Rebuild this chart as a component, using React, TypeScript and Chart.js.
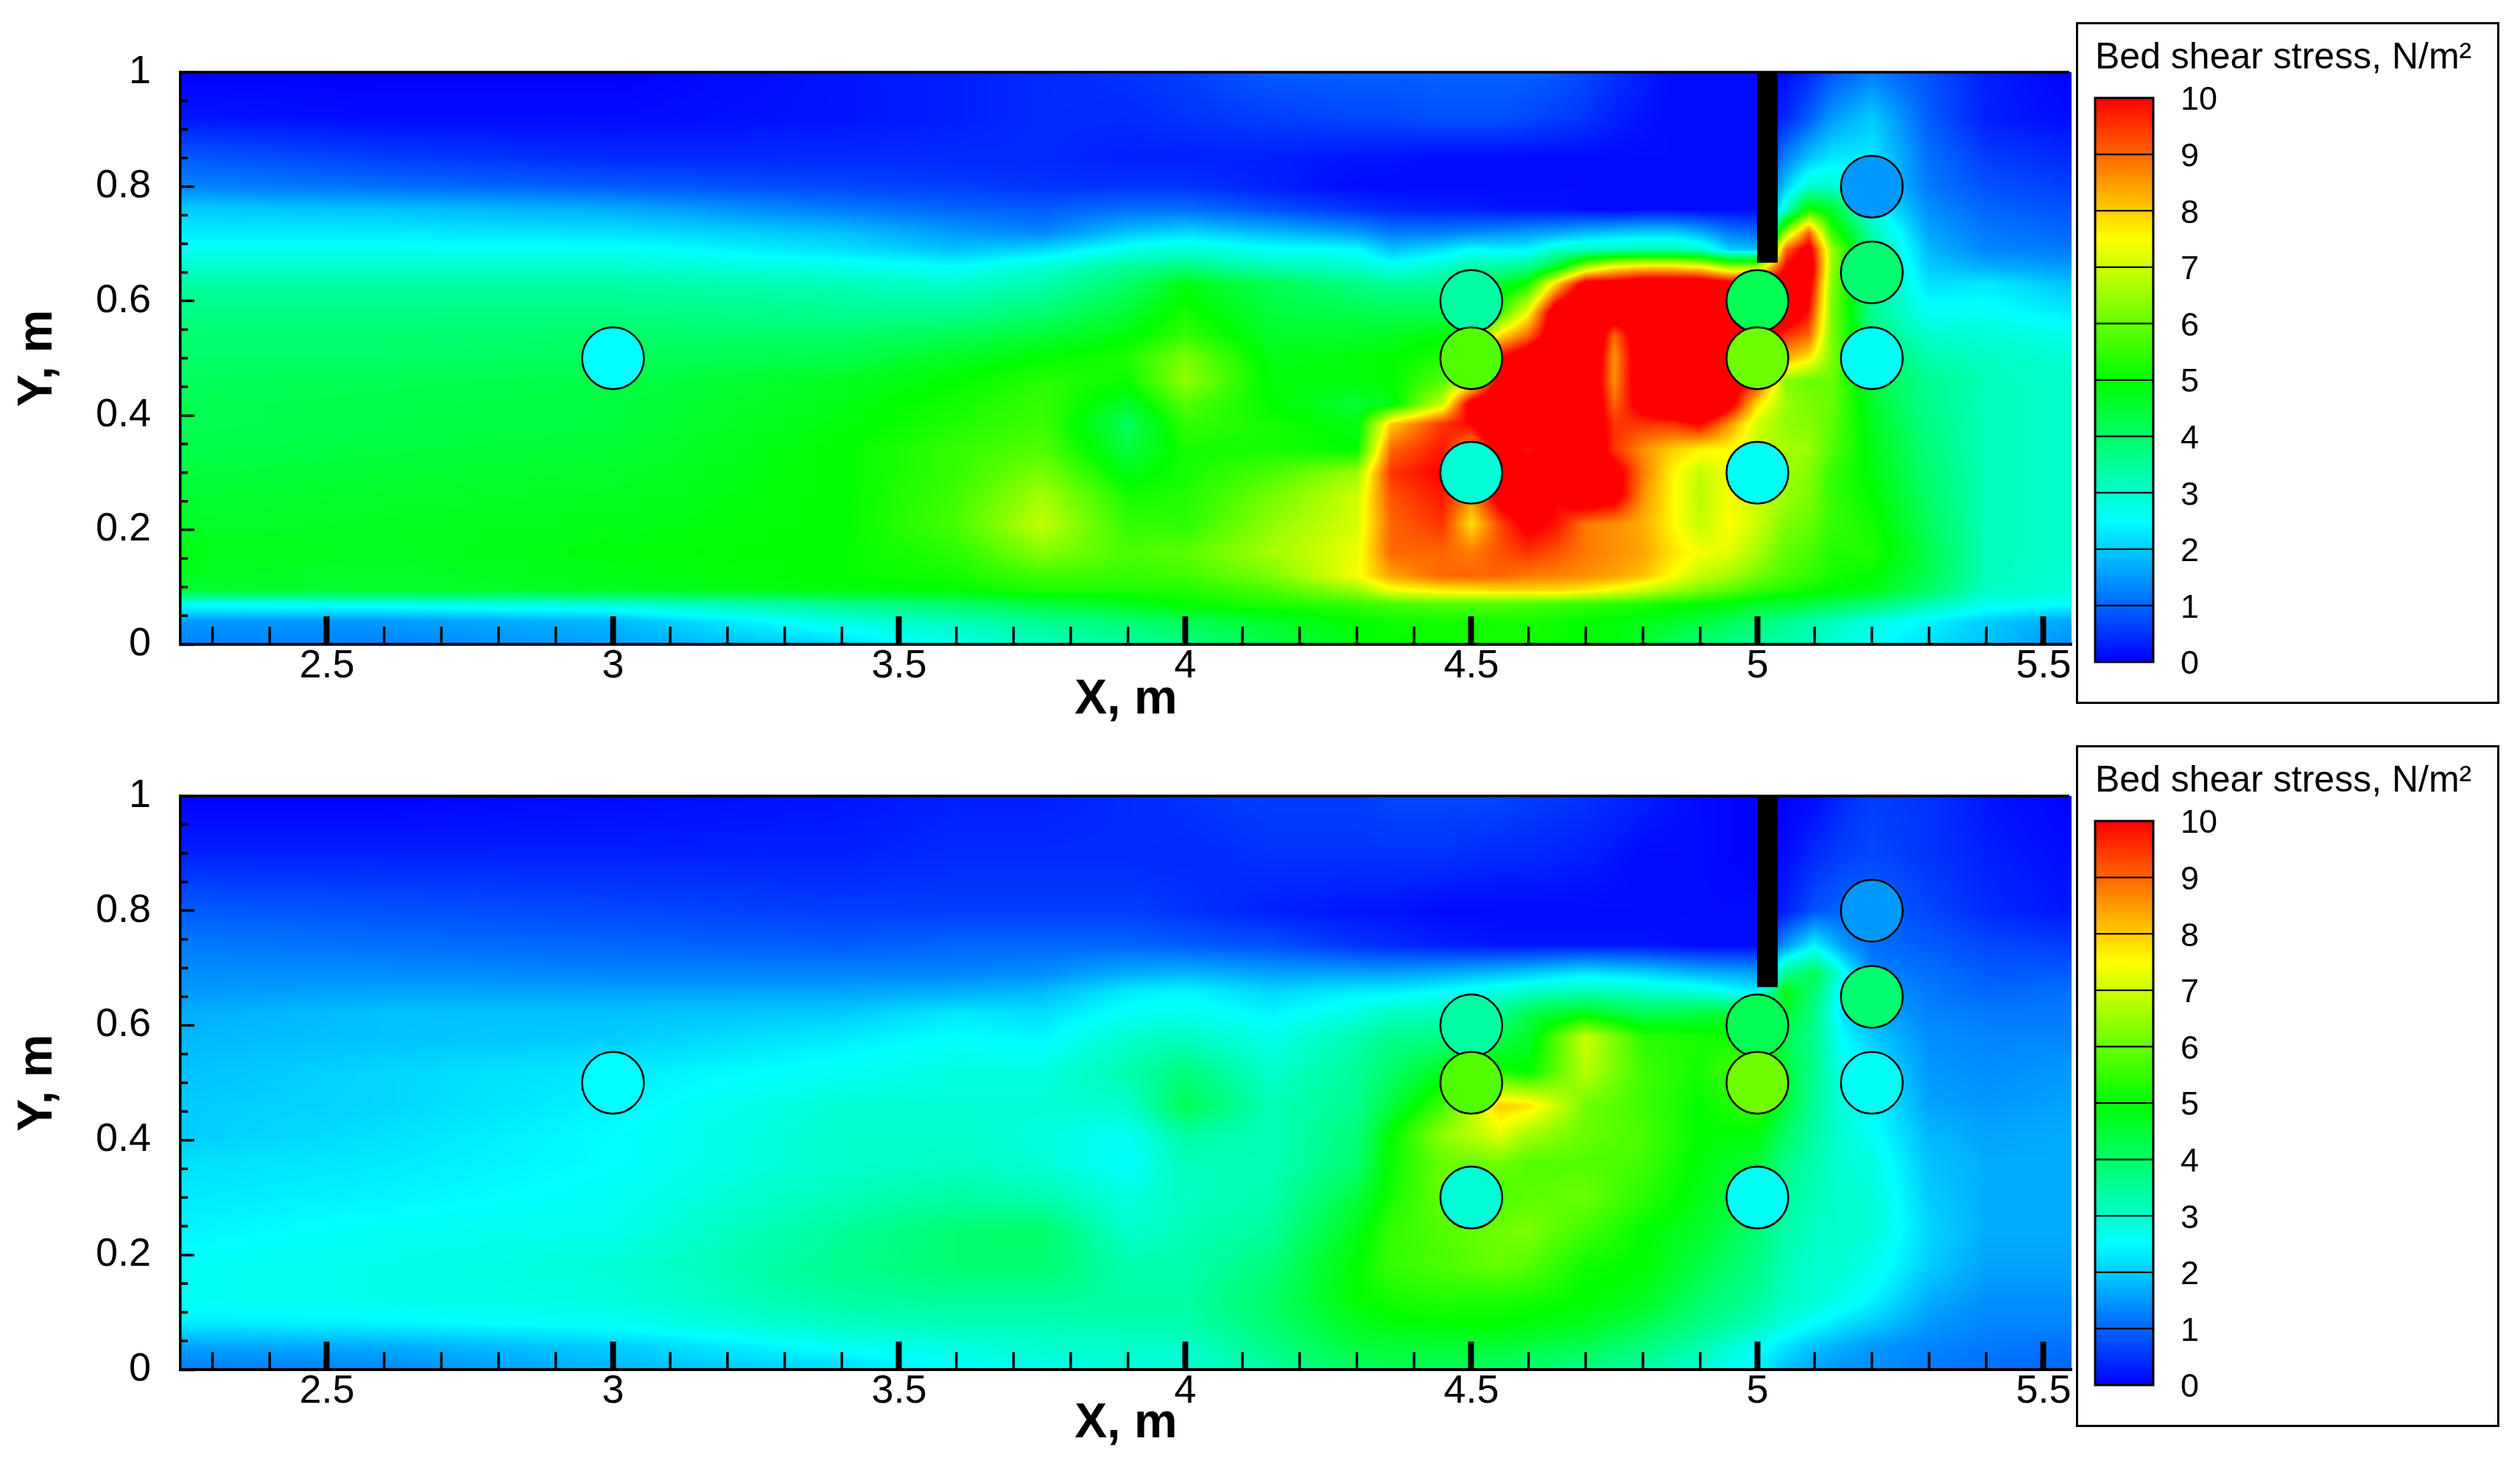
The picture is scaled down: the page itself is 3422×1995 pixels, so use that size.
import React, { useEffect, useRef } from "react";
import { Chart, registerables } from "chart.js";

Chart.register(...registerables);

const FONT = "'Liberation Sans', Arial, sans-serif";

// Axes
const xMin = 2.244;
const xMax = 5.549;
const xMajorTicks = [2.5, 3, 3.5, 4, 4.5, 5, 5.5];
const xMinorTicks = [2.3, 2.4, 2.6, 2.7, 2.8, 2.9, 3.1, 3.2, 3.3, 3.4, 3.6, 3.7, 3.8, 3.9, 4.1, 4.2, 4.3, 4.4, 4.6, 4.7, 4.8, 4.9, 5.1, 5.2, 5.3, 5.4];
const yMajorTicks = [0, 0.2, 0.4, 0.6, 0.8, 1];
const yMinorTicks = [0.05, 0.1, 0.15, 0.25, 0.3, 0.35, 0.45, 0.5, 0.55, 0.65, 0.7, 0.75, 0.85, 0.9, 0.95];
const xTitle = "X, m";
const yTitle = "Y, m";
const legendTitle = "Bed shear stress, N/m²";
const colorLevels = [0, 1, 2, 3, 4, 5, 6, 7, 8, 9, 10];

// Colour map: value -> RGB
const mapValues = [0, 2.5, 5, 7.5, 10];
const mapColors = [[0, 0, 255], [0, 255, 255], [0, 255, 0], [255, 255, 0], [255, 0, 0]];

// Measuring points and wall
const probeX = [3, 4.5, 4.5, 4.5, 5, 5, 5, 5.2, 5.2, 5.2];
const probeY = [0.5, 0.6, 0.5, 0.3, 0.6, 0.5, 0.3, 0.8, 0.65, 0.5];
const probeStress = [2.5, 3.4, 5.8, 2.9, 4.2, 6.1, 2.6, 1.5, 3.9, 2.6];
const wallX = 5.0175;
const wallY = [1, 0.667];

// Upper panel field
const topX = [2.244, 2.6, 3, 3.4, 3.6, 3.75, 3.9, 4, 4.15, 4.3, 4.36, 4.45, 4.5, 4.55, 4.6, 4.65, 4.7, 4.75, 4.8, 4.85, 4.9, 4.95, 5, 5.05, 5.09, 5.13, 5.2, 5.3, 5.4, 5.549];
const topY = [1, 0.92, 0.85, 0.8, 0.76, 0.72, 0.69, 0.66, 0.63, 0.58, 0.54, 0.5, 0.46, 0.42, 0.385, 0.34, 0.3, 0.26, 0.21, 0.16, 0.12, 0.095, 0.07, 0.04, 0];
const topR100 = [0, 0, 0, .2, .3, .4, .5, .6, .9, .95, .95, .95, .95, .95, .95, .85, .7, .5, .3, .1, .1, .1, .1, .1, .4, .8, 1.2, .8, .3, 0];
const topR092 = [.2, .1, .1, .2, .3, .4, .4, .5, .6, .7, .7, .8, .8, .8, .7, .6, .5, .3, .2, .1, .1, .1, .1, .4, .9, 1.5, 2, .9, .3, .1];
const topR085 = [.9, .6, .4, .4, .4, .4, .3, .3, .3, .2, .2, .1, .1, .1, .1, .1, .1, .1, .1, .1, .1, .1, .1, 1.3, 1.9, 2.3, 2.3, 1.1, .6, .4];
const topR080 = [1.3, 1.1, .9, .7, .6, .5, .5, .5, .3, .1, .1, .1, .1, .1, .1, .1, .1, .1, .1, .1, .1, .1, .1, 2, 3, 3, 2.2, 1.2, .8, .6];
const topR076 = [2, 1.9, 1.7, 1.2, 1, .9, 1.1, 1.1, .8, .5, .4, .3, .3, .2, .2, .2, .1, .1, .1, .1, .1, .1, .1, 3, 5.2, 4.6, 2.6, 1.4, 1, .8];
const topR072 = [2.3, 2.3, 2.2, 1.9, 1.5, 1.3, 1.9, 2.1, 1.8, 1.5, 1.2, 1.2, 1.3, 1.4, 1.5, 1.6, 1.8, 1.9, 2, 2, 1.7, 1.2, 1, 6.5, 9, 5.5, 3.3, 1.6, 1.2, 1];
const topR069 = [2.6, 2.6, 2.6, 2.2, 1.9, 2.1, 2.7, 2.9, 2.6, 2.5, 1.9, 2.2, 2.5, 2.4, 2.4, 3, 3.1, 3.2, 3.3, 3.3, 3, 2, 1.9, 9, 10.5, 6.5, 3.5, 1.8, 1.3, 1.2];
const topR066 = [3, 3, 3, 2.7, 2.5, 2.9, 3.5, 3.7, 3.2, 3, 2.7, 3, 3.3, 3.4, 3.6, 4.6, 6.5, 7.5, 7.8, 7.8, 7.5, 6.5, 6.5, 10, 11, 6.5, 3.5, 2, 1.7, 1.5];
const topR063 = [3.4, 3.4, 3.4, 3.2, 3, 3.3, 4, 4.8, 4.2, 3.7, 3.5, 3.6, 3.8, 4.5, 5.2, 8, 10.5, 10.5, 11, 11, 11, 10.5, 10, 11, 10.5, 6.3, 3.5, 2.2, 2.3, 1.9];
const topR058 = [3.7, 3.7, 3.7, 3.6, 3.6, 3.9, 4.5, 5.2, 4.4, 4.3, 4.2, 4.2, 4.4, 5.5, 7.5, 11, 12, 11, 11, 12, 12, 12, 11, 11, 9.8, 6.2, 3.6, 2.6, 2.6, 2.3];
const topR054 = [3.9, 3.9, 4, 4, 4.2, 4.5, 4.9, 5.5, 4.6, 4.6, 4.7, 4.9, 5.2, 7.8, 9, 11, 12, 9, 11, 12, 12, 12, 11, 9.5, 9, 6.2, 3.8, 3, 2.9, 2.7];
const topR050 = [4, 4, 4.1, 4.3, 4.7, 5, 5.3, 6.2, 4.8, 4.9, 5, 5.3, 5.8, 10, 11, 12, 12, 8.5, 11, 12, 12, 12, 10.5, 8.3, 7.7, 6.2, 4.2, 3.3, 3.1, 2.9];
const topR046 = [4.1, 4.2, 4.3, 4.7, 5, 5.4, 5.1, 6.4, 4.9, 4.9, 5, 5.8, 7, 10.5, 11, 12, 11.5, 8.6, 11, 12, 12, 11, 9.5, 6.3, 6, 6, 4.4, 3.6, 3.2, 3];
const topR042 = [4.2, 4.3, 4.4, 4.8, 5.2, 5.5, 4.6, 5.8, 5, 4.5, 4.8, 7, 10.5, 11.5, 12, 12, 11.5, 9, 10.5, 11.5, 12, 10.5, 7.8, 6.5, 6.2, 6, 4.6, 3.6, 3.2, 3];
const topR038 = [4.2, 4.3, 4.4, 4.9, 5.3, 5.6, 4.1, 5.5, 5.2, 4.8, 8, 9.5, 10, 11.5, 12, 12, 11, 9.5, 9.5, 9.5, 10, 8.6, 7, 6.4, 6.3, 5.9, 4.7, 3.7, 3.2, 3];
const topR034 = [4.3, 4.4, 4.5, 5, 5.5, 5.8, 4.4, 5.2, 5.2, 5, 9, 9.8, 8.5, 10.5, 9.8, 10.5, 11.5, 9.5, 8.6, 8, 7.6, 7.5, 7, 6.6, 6.5, 5.8, 4.8, 3.8, 3.2, 3];
const topR030 = [4.4, 4.5, 4.6, 5, 5.5, 6.2, 4.8, 5.2, 5.7, 6.5, 9.5, 10, 9, 10, 10.5, 10.5, 11, 10.5, 8.8, 7.6, 6.9, 7.4, 6.8, 6.5, 6.3, 5.5, 4.9, 3.9, 3.2, 3];
const topR026 = [4.5, 4.6, 4.7, 5, 5.6, 6.6, 5.2, 5.3, 6.1, 7, 9.2, 9.8, 8.6, 10.5, 11, 10, 11, 10.5, 8.6, 7.6, 6.8, 7.4, 7, 6.5, 6.2, 5.5, 5, 4, 3.2, 3];
const topR021 = [4.6, 4.7, 4.8, 5, 5.7, 6.9, 5.5, 5.4, 6.4, 7.1, 9, 9.5, 7.8, 9.3, 10.3, 9.8, 8.8, 8.6, 8.3, 7.6, 6.9, 7.5, 7, 6.2, 6, 5.5, 5.2, 4.1, 3.2, 3];
const topR016 = [4.8, 4.7, 4.9, 5, 5.4, 6.3, 5.7, 5.9, 6.6, 7.3, 9, 9, 8.8, 9.2, 9.5, 9.2, 8.8, 8.6, 8.4, 7.8, 7.4, 7.2, 6.6, 5.9, 5.7, 5.3, 5.3, 4.3, 3.2, 3];
const topR012 = [4.7, 4.6, 4.8, 5, 5.2, 5.6, 5.5, 5.6, 6.2, 7.4, 8.4, 9, 9, 9, 8.8, 8.7, 8.6, 8.4, 8.1, 7.5, 6.9, 6.6, 6.1, 5.7, 5.5, 5.2, 5, 4.2, 3.2, 2.9];
const topR010 = [4.5, 4.6, 4.7, 4.9, 5, 5.3, 5.3, 5.3, 5.7, 6.5, 7.4, 7.7, 7.8, 7.9, 7.9, 7.9, 7.7, 7.4, 7, 6.6, 6.2, 5.9, 5.5, 5.3, 5.1, 5, 4.8, 4, 3.1, 2.9];
const topR007 = [2.6, 2.7, 2.9, 3.6, 4, 4.4, 4.7, 5, 5.3, 5.5, 5.7, 5.8, 5.8, 5.8, 5.7, 5.6, 5.5, 5.4, 5.3, 5.1, 5, 4.9, 4.6, 4.5, 4.4, 4.2, 3.9, 3.3, 2.7, 2.5];
const topR004 = [1.5, 1.5, 1.8, 2.8, 3.2, 3.6, 3.9, 4.2, 4.6, 5, 5.1, 5.2, 5.2, 5.2, 5.2, 5.1, 5, 4.9, 4.8, 4.6, 4.4, 4.2, 3.9, 3.6, 3.4, 3.2, 2.8, 2.4, 2, 1.6];
const topR000 = [1.3, 1.3, 1.6, 2.1, 2.7, 3.1, 3.4, 3.7, 4.3, 4.9, 5, 5.1, 5.2, 5.2, 5.2, 5.1, 5, 4.9, 4.6, 4.2, 3.9, 3.7, 3.5, 3.3, 3.1, 2.9, 2.5, 2.2, 1.9, 1.4];
const topRows = [topR100, topR092, topR085, topR080, topR076, topR072, topR069, topR066, topR063, topR058, topR054, topR050, topR046, topR042, topR038, topR034, topR030, topR026, topR021, topR016, topR012, topR010, topR007, topR004, topR000];

// Lower panel field
const lowX = [2.244, 2.6, 3, 3.4, 3.6, 3.75, 3.9, 4, 4.15, 4.3, 4.36, 4.45, 4.55, 4.6, 4.7, 4.8, 4.9, 5, 5.05, 5.1, 5.15, 5.2, 5.3, 5.4, 5.549];
const lowY = [1, 0.9, 0.8, 0.74, 0.69, 0.66, 0.62, 0.58, 0.52, 0.46, 0.41, 0.36, 0.3, 0.24, 0.18, 0.12, 0.08, 0.04, 0];
const lowR100 = [0, 0, .1, .2, .3, .3, .4, .5, .6, .6, .7, .7, .7, .6, .5, .3, .1, 0, 0, .1, .4, .6, .5, .2, 0];
const lowR090 = [.3, .3, .3, .3, .4, .4, .4, .4, .5, .5, .5, .5, .4, .4, .3, .1, .1, 0, .1, .4, .6, .7, .5, .3, .1];
const lowR080 = [.9, .8, .7, .6, .6, .6, .6, .5, .3, .2, .2, .1, .1, .1, .1, .1, .1, .1, .3, .8, 1, 1, .7, .4, .2];
const lowR074 = [1.2, 1.1, 1, .9, 1, 1, 1, .9, .8, .5, .4, .3, .2, .2, .2, .2, .1, .1, 1.5, 2.4, 1.5, 1.1, .9, .7, .6];
const lowR069 = [1.4, 1.4, 1.3, 1.3, 1.3, 1.4, 1.7, 1.8, 1.6, 1.6, 1.6, 1.7, 1.9, 2, 2.3, 2.1, 1.8, 1.6, 3.6, 4.2, 2.7, 1.3, 1.1, .9, .9];
const lowR066 = [1.5, 1.6, 1.6, 1.6, 1.7, 1.8, 2.3, 2.4, 2.1, 2.3, 2.3, 2.5, 2.8, 3, 3.2, 3, 2.8, 2.3, 4.8, 3.9, 2.4, 1.5, 1.2, 1, 1.1];
const lowR062 = [1.7, 1.9, 1.9, 2, 2.3, 2.2, 2.6, 2.7, 2.4, 2.8, 3.1, 3.2, 3.6, 4.3, 4.8, 4.2, 4.4, 4.6, 4.6, 3.7, 2.2, 1.7, 1.3, 1.2, 1.2];
const lowR058 = [1.8, 1.9, 2, 2.3, 2.5, 2.4, 3, 3.1, 2.7, 3.3, 3.6, 3.7, 4.2, 4.6, 7, 5.4, 5.2, 5.1, 4.2, 3.6, 2.5, 2, 1.4, 1.3, 1.3];
const lowR052 = [1.9, 2.1, 2.3, 2.6, 2.8, 2.8, 3.3, 3.8, 3, 3.5, 4, 4.7, 5.2, 5, 6.8, 5.6, 5.2, 6, 4.4, 3.6, 2.7, 2.3, 1.5, 1.4, 1.5];
const lowR046 = [2, 2.1, 2.4, 2.9, 2.9, 2.9, 3, 4.2, 3.2, 3.6, 4.4, 5.6, 8, 7.8, 6.1, 5.6, 5, 5.6, 4.4, 3.5, 2.8, 2.5, 1.6, 1.5, 1.6];
const lowR041 = [2, 2.2, 2.5, 3, 3, 2.8, 2.6, 3.4, 3.2, 3.8, 5, 6.4, 7.2, 6.6, 6, 5.7, 5, 4.9, 4, 3.4, 2.9, 2.6, 1.8, 1.6, 1.7];
const lowR036 = [2.2, 2.3, 2.5, 3, 3.1, 2.9, 2.5, 3.2, 3.2, 3.9, 5.1, 6, 6.1, 5.8, 5.8, 5.6, 4.9, 4.5, 3.7, 3.3, 2.9, 2.8, 1.9, 1.7, 1.7];
const lowR030 = [2.3, 2.4, 2.6, 3.2, 3.4, 3.3, 2.8, 3.1, 3.3, 4.4, 5.2, 6, 5.7, 5.9, 6, 5.4, 4.8, 4.2, 3.5, 3.2, 3, 2.9, 2, 1.7, 1.7];
const lowR024 = [2.4, 2.6, 2.7, 3.5, 3.9, 4, 3, 3.2, 3.5, 4.8, 5.5, 5.8, 6.1, 6.2, 5.6, 5, 4.6, 3.9, 3.3, 3.1, 3, 2.9, 2.1, 1.7, 1.7];
const lowR018 = [2.6, 2.7, 2.9, 3.6, 3.9, 3.9, 3.3, 3.3, 3.8, 5, 5.5, 5.7, 6, 5.8, 5.1, 5, 4.3, 3.7, 3.2, 3, 2.9, 2.7, 2, 1.6, 1.6];
const lowR012 = [2.6, 2.7, 2.8, 3.4, 3.5, 3.5, 3.4, 3.4, 4, 5, 5.2, 5.3, 5.2, 5.2, 5, 4.7, 4, 3.5, 3.1, 2.9, 2.7, 2.4, 1.7, 1.4, 1.4];
const lowR008 = [2.3, 2.4, 2.6, 3.1, 3.2, 3.2, 3.3, 3.3, 3.9, 4.7, 4.9, 5, 5, 4.9, 4.7, 4.3, 3.7, 3.2, 2.8, 2.5, 2.2, 2, 1.5, 1.3, 1.3];
const lowR004 = [1.6, 1.7, 2, 2.6, 2.8, 3, 3, 3, 3.7, 4.4, 4.5, 4.5, 4.5, 4.4, 4.2, 3.8, 3.3, 2.6, 2.2, 1.9, 1.7, 1.5, 1.3, 1.2, 1.1];
const lowR000 = [1.2, 1.3, 1.8, 2.1, 2.5, 2.7, 2.9, 2.9, 3.4, 4.1, 4.2, 4.1, 4, 3.9, 3.7, 3.4, 2.9, 2.4, 1.9, 1.6, 1.4, 1.4, 1.2, 1.1, 1];
const lowRows = [lowR100, lowR090, lowR080, lowR074, lowR069, lowR066, lowR062, lowR058, lowR052, lowR046, lowR041, lowR036, lowR030, lowR024, lowR018, lowR012, lowR008, lowR004, lowR000];

function colorOf(v: number): number[] {
  const c = Math.max(mapValues[0], Math.min(mapValues[mapValues.length - 1], v));
  let i = 0;
  while (i < mapValues.length - 2 && c > mapValues[i + 1]) i++;
  const t = (c - mapValues[i]) / (mapValues[i + 1] - mapValues[i]);
  return mapColors[i].map((a, k) => Math.round(a + (mapColors[i + 1][k] - a) * t));
}
const cssColor = (v: number) => {
  const [r, g, b] = colorOf(v);
  return `rgb(${r},${g},${b})`;
};

// position of v in a monotonic node list, as [lower index, fraction]
function locate(nodes: number[], v: number): [number, number] {
  const asc = nodes[nodes.length - 1] > nodes[0];
  let i = 0;
  while (i < nodes.length - 2 && (asc ? v > nodes[i + 1] : v < nodes[i + 1])) i++;
  const t = (v - nodes[i]) / (nodes[i + 1] - nodes[i]);
  return [i, Math.max(0, Math.min(1, t))];
}

const zeroPadding = (s: any) => {
  s.paddingLeft = 0;
  s.paddingRight = 0;
  s.paddingTop = 0;
  s.paddingBottom = 0;
};

function fieldPlugin(xs: number[], ys: number[], rows: number[][]) {
  return {
    id: "field",
    beforeDraw(chart: any) {
      const { left, right, top, bottom } = chart.chartArea;
      const L = Math.round(left);
      const T = Math.round(top);
      const W = Math.round(right) - L;
      const H = Math.round(bottom) - T;
      const img = chart.ctx.createImageData(W, H);
      const colLoc: [number, number][] = [];
      for (let i = 0; i < W; i++) colLoc.push(locate(xs, chart.scales.x.getValueForPixel(L + i + 0.5)));
      let p = 0;
      for (let j = 0; j < H; j++) {
        const [r, s] = locate(ys, chart.scales.y.getValueForPixel(T + j + 0.5));
        const a = rows[r];
        const b = rows[r + 1];
        for (let i = 0; i < W; i++) {
          const [c, t] = colLoc[i];
          const v = (a[c] * (1 - t) + a[c + 1] * t) * (1 - s) + (b[c] * (1 - t) + b[c + 1] * t) * s;
          const col = colorOf(v);
          img.data[p++] = col[0];
          img.data[p++] = col[1];
          img.data[p++] = col[2];
          img.data[p++] = 255;
        }
      }
      chart.ctx.putImageData(img, L, T);
    },
    afterDatasetsDraw(chart: any) {
      const { ctx, chartArea, scales } = chart;
      ctx.save();
      ctx.strokeStyle = "#000";
      ctx.lineWidth = 3.5;
      xMinorTicks.forEach((v) => {
        const x = scales.x.getPixelForValue(v);
        ctx.beginPath();
        ctx.moveTo(x, chartArea.bottom);
        ctx.lineTo(x, chartArea.bottom - 24);
        ctx.stroke();
      });
      yMinorTicks.forEach((v) => {
        const y = scales.y.getPixelForValue(v);
        ctx.beginPath();
        ctx.moveTo(chartArea.left, y);
        ctx.lineTo(chartArea.left + 10, y);
        ctx.stroke();
      });
      ctx.beginPath();
      ctx.moveTo(chartArea.left, chartArea.top);
      ctx.lineTo(chartArea.right - 3, chartArea.top);
      ctx.stroke();
      ctx.restore();
    },
  };
}

function Panel(props: { canvasTop: number; plotTop: number; plotBottom: number; xs: number[]; ys: number[]; rows: number[][] }) {
  const ref = useRef<HTMLCanvasElement>(null);
  const width = 2815;
  const height = 985;
  useEffect(() => {
    const chart = new Chart(ref.current as HTMLCanvasElement, {
      type: "scatter",
      data: {
        datasets: [
          {
            label: "Probes",
            data: probeX.map((x, i) => ({ x, y: probeY[i] })),
            backgroundColor: probeStress.map(cssColor),
            borderColor: "#000",
            borderWidth: 2.5,
            pointRadius: 42,
            clip: false,
          },
          {
            label: "Wall",
            data: wallY.map((y) => ({ x: wallX, y })),
            showLine: true,
            borderColor: "#000",
            borderWidth: 28,
            borderCapStyle: "butt",
            pointRadius: 0,
          },
        ],
      },
      options: {
        animation: false,
        responsive: false,
        devicePixelRatio: 1,
        layout: { autoPadding: false, padding: { top: props.plotTop, right: 2, left: 0, bottom: 0 } },
        plugins: { legend: { display: false }, tooltip: { enabled: false } },
        scales: {
          x: {
            type: "linear",
            min: xMin,
            max: xMax,
            afterBuildTicks: (s: any) => { s.ticks = xMajorTicks.map((value) => ({ value })); },
            afterFit: (s: any) => { s.height = height - props.plotBottom; zeroPadding(s); },
            border: { display: true, color: "#000", width: 4 },
            grid: { drawOnChartArea: false, drawTicks: true, tickColor: "#000", tickWidth: 8, tickLength: -38 },
            ticks: {
              color: "#000",
              font: { family: FONT, size: 54 },
              padding: 36,
              autoSkip: false,
              maxRotation: 0,
              minRotation: 0,
              callback: (v: any) => String(v),
            },
            title: {
              display: true,
              text: xTitle,
              color: "#000",
              font: { family: FONT, size: 66, weight: "bold", lineHeight: 1 },
              padding: { top: 0, bottom: 1 },
            },
          },
          y: {
            type: "linear",
            min: 0,
            max: 1,
            afterBuildTicks: (s: any) => { s.ticks = yMajorTicks.map((value) => ({ value })); },
            afterFit: (s: any) => { s.width = 245; zeroPadding(s); },
            border: { display: true, color: "#000", width: 3.5 },
            grid: { drawOnChartArea: false, drawTicks: true, tickColor: "#000", tickWidth: 3.5, tickLength: -19 },
            ticks: {
              color: "#000",
              font: { family: FONT, size: 54 },
              padding: 59,
              autoSkip: false,
              callback: (v: any) => String(v),
            },
            title: {
              display: true,
              text: yTitle,
              color: "#000",
              font: { family: FONT, size: 66, weight: "bold", lineHeight: 1 },
              padding: { top: 19, bottom: 0 },
            },
          },
        },
      },
      plugins: [fieldPlugin(props.xs, props.ys, props.rows)],
    } as any);
    return () => chart.destroy();
  }, []);
  return (
    <canvas
      ref={ref}
      width={width}
      height={height}
      style={{ position: "absolute", left: 0, top: props.canvasTop, width, height }}
    />
  );
}

const legendFrame = {
  id: "legendFrame",
  afterDatasetsDraw(chart: any) {
    const { ctx, chartArea } = chart;
    ctx.save();
    ctx.strokeStyle = "#000";
    ctx.lineWidth = 3;
    ctx.strokeRect(chartArea.left, chartArea.top, chartArea.right - chartArea.left, chartArea.bottom - chartArea.top);
    ctx.restore();
  },
};

function Legend(props: { top: number }) {
  const ref = useRef<HTMLCanvasElement>(null);
  const width = 575;
  const height = 926;
  const barTop = 103;
  const barBottom = 869;
  useEffect(() => {
    const ctx2d = (ref.current as HTMLCanvasElement).getContext("2d") as CanvasRenderingContext2D;
    const gradient = ctx2d.createLinearGradient(0, barBottom, 0, barTop);
    mapValues.forEach((v) => gradient.addColorStop(v / 10, cssColor(v)));
    const chart = new Chart(ref.current as HTMLCanvasElement, {
      type: "bar",
      data: {
        labels: [""],
        datasets: colorLevels.slice(0, -1).map((lo, i) => ({
          label: `${lo}-${colorLevels[i + 1]}`,
          data: [[lo, colorLevels[i + 1]]],
          grouped: false,
          barPercentage: 1,
          categoryPercentage: 1,
          backgroundColor: gradient,
          borderColor: "#000",
          borderWidth: 1.5,
          borderSkipped: false,
        })),
      },
      options: {
        animation: false,
        responsive: false,
        devicePixelRatio: 1,
        layout: { autoPadding: false, padding: { left: 26, right: 0, top: 0, bottom: height - barBottom } },
        plugins: {
          legend: { display: false },
          tooltip: { enabled: false },
          title: {
            display: true,
            text: legendTitle,
            align: "start",
            color: "#000",
            font: { family: FONT, size: 50, weight: "normal", lineHeight: 1 },
            padding: { top: 24, bottom: barTop - 74 },
          },
        },
        scales: {
          x: { display: false },
          y: {
            position: "right",
            min: 0,
            max: 10,
            afterFit: (s: any) => { s.width = width - 105; zeroPadding(s); },
            border: { display: false },
            grid: { display: false, drawTicks: false },
            ticks: {
              stepSize: 1,
              autoSkip: false,
              color: "#000",
              padding: 37,
              labelOffset: 4,
              font: { family: FONT, size: 45 },
            },
          },
        },
      },
      plugins: [legendFrame],
    } as any);
    return () => chart.destroy();
  }, []);
  return (
    <canvas
      ref={ref}
      width={width}
      height={height}
      style={{
        position: "absolute",
        left: 2819,
        top: props.top,
        width,
        height,
        outline: "3px solid #000",
        outlineOffset: "-3px",
      }}
    />
  );
}

export default function App() {
  return (
    <div style={{ position: "absolute", left: 0, top: 0, width: 3422, height: 1995, background: "#fff", overflow: "hidden" }}>
      <Panel canvasTop={0} plotTop={98} plotBottom={875} xs={topX} ys={topY} rows={topRows} />
      <Panel canvasTop={983} plotTop={98} plotBottom={877} xs={lowX} ys={lowY} rows={lowRows} />
      <Legend top={30} />
      <Legend top={1012} />
    </div>
  );
}
